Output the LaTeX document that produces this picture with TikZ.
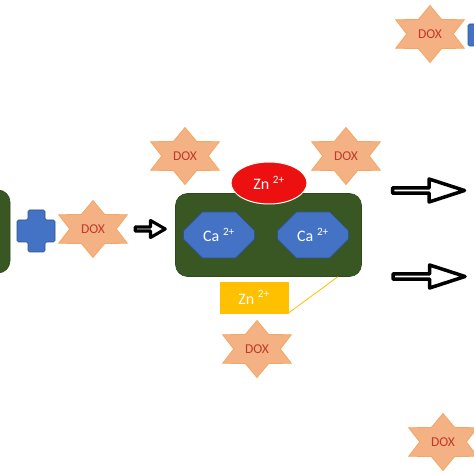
\documentclass[tikz,border=0pt]{standalone}
\usepackage{fontspec}
\setmainfont{Carlito}
\usetikzlibrary{shapes.geometric,shapes.misc,shapes.arrows}
\definecolor{doxfill}{HTML}{F4B183}
\definecolor{doxedge}{HTML}{F3A862}
\definecolor{doxink}{HTML}{C0392B}
\definecolor{shellgreen}{HTML}{385723}
\definecolor{shelledge}{HTML}{2E4A1C}
\definecolor{cablue}{HTML}{4472C4}
\definecolor{caedge}{HTML}{2F528F}
\definecolor{znred}{HTML}{EC1010}
\definecolor{znyellow}{HTML}{FFC000}
\tikzset{
  % drug molecules: six-point stars, stretched sideways
  dox star/.style={
    star, star points=6, star point ratio=1.7,
    fill=doxfill, draw=doxedge, line width=0.8pt,
    minimum size=57pt, inner sep=0pt,
    xscale=1.39, transform shape,
  },
  dox text/.style={text=doxink, font=\fontsize{13.5}{15}\selectfont, inner sep=0pt},
  dox/.pic={
    \node[dox star] (-s) {};
    \node[dox text] (-t) {DOX};
  },
  % the plus sign between carrier and drug
  plus shape/.style={fill=cablue, draw=caedge, line width=0.6pt, rounded corners=1.5pt},
  plus/.pic={
    \draw[plus shape] (-8,21) -- (9,21) -- (9,11) -- (19,11) -- (19,-11) -- (9,-11)
      -- (9,-21) -- (-8,-21) -- (-8,-11) -- (-19,-11) -- (-19,11) -- (-8,11) -- cycle;
  },
  % the carrier body and the ions on it
  shell/.style={
    fill=shellgreen, draw=shelledge, line width=0.6pt, rounded corners=12pt,
  },
  ion text/.style={text=white, font=\fontsize{16}{18}\selectfont, inner sep=0pt},
  ca/.style={
    ion text, chamfered rectangle,
    chamfered rectangle xsep=12pt, chamfered rectangle ysep=12pt,
    fill=cablue, draw=caedge, line width=0.6pt,
    minimum width=71pt, minimum height=46pt,
  },
  zn top/.style={
    ion text, ellipse, fill=znred, draw=white, line width=1pt,
    minimum width=76pt, minimum height=42pt,
  },
  zn box/.style={
    ion text, rectangle, fill=znyellow, draw=znyellow,
    minimum width=68pt, minimum height=31pt,
  },
  % hollow block arrows
  fat arrow/.style={
    single arrow, fill=white, draw=black, line width=3.5pt,
    inner sep=0pt, line join=round,
  },
}
\begin{document}
\begin{tikzpicture}[x=1pt,y=1pt]
  \useasboundingbox (0,0) rectangle (474,474);
  \clip (0,0) rectangle (474,474);

  % ---- left: carrier + drug ------------------------------------------------
  \draw[shell] (-80,201) rectangle (10,284);
  \pic at (36,243) {plus};
  \pic (doxL) at (93,245) {dox};
  \node[fat arrow, line width=3.1pt, minimum height=30pt, minimum width=17pt,
        single arrow head extend=5pt, single arrow tip angle=60] (arrL) at (148.5,245) {};

  % ---- middle: loaded carrier ------------------------------------------------
  \node[shell, minimum width=186pt, minimum height=83pt] (core) at (268.5,239) {};
  \node[ca] (caL) at (219,239) {Ca \textsuperscript{2+}};
  \node[ca] (caR) at (313,239) {Ca \textsuperscript{2+}};
  \node[zn top] (znT) at (269,291) {Zn \textsuperscript{2+}};
  \node[zn box] (znB) at (254,176.5) {Zn \textsuperscript{2+}};
  \draw[znyellow, line width=0.8pt] (znB.south east) -- ([xshift=-24pt]core.south east);

  \pic (doxTL) at (185,318) {dox};
  \pic (doxTR) at (346,318) {dox};
  \pic (doxB)  at (257,125) {dox};

  % ---- right: release ---------------------------------------------------------
  \node[fat arrow, minimum height=72pt, minimum width=23pt,
        single arrow head extend=6pt, single arrow tip angle=36] (arrR1) at (424.5,283.5) {};
  \node[fat arrow, minimum height=72pt, minimum width=23pt,
        single arrow head extend=6pt, single arrow tip angle=36] (arrR2) at (425,197.5) {};

  \pic (doxC1) at (430,440) {dox};
  \pic at (487,439) {plus};
  \pic (doxC2) at (443,32) {dox};
\end{tikzpicture}
\end{document}
